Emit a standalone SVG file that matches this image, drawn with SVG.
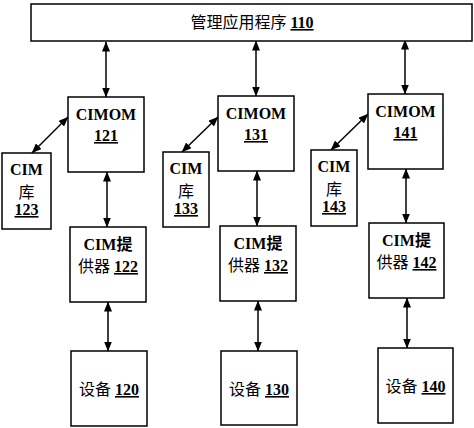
<svg xmlns="http://www.w3.org/2000/svg" width="474" height="428" viewBox="0 0 474 428">
<style>
.box{fill:#fff;stroke:#000;stroke-width:1.5}
.t{font-family:"Liberation Serif","Noto Sans CJK SC",serif;font-size:16px;fill:#000;text-anchor:middle}
.b{font-weight:bold}
.u{font-weight:bold;text-decoration:underline}
.c{stroke:#000;stroke-width:1.5;fill:none;marker-start:url(#ah);marker-end:url(#ah)}
</style>
<defs>
<marker id="ah" viewBox="0 0 10 8" refX="9.5" refY="4" markerWidth="10" markerHeight="8" markerUnits="userSpaceOnUse" orient="auto-start-reverse">
<path d="M0,0 L10,4 L0,8 Z" fill="#000"/>
</marker>
</defs>
<rect width="474" height="428" fill="#fff"/>
<g id="connectors">
<line class="c" x1="106" y1="42" x2="106" y2="97"/>
<line class="c" x1="256" y1="41" x2="256" y2="96"/>
<line class="c" x1="405" y1="40" x2="405" y2="94"/>
<line class="c" x1="32" y1="153" x2="68" y2="117"/>
<line class="c" x1="182" y1="152" x2="218" y2="117"/>
<line class="c" x1="331" y1="150" x2="368" y2="114"/>
<line class="c" x1="107" y1="172" x2="107" y2="227"/>
<line class="c" x1="257" y1="171" x2="257" y2="226"/>
<line class="c" x1="406" y1="169" x2="406" y2="223"/>
<line class="c" x1="108" y1="302" x2="108" y2="351"/>
<line class="c" x1="258" y1="301" x2="258" y2="351"/>
<line class="c" x1="407" y1="298" x2="407" y2="348"/>
</g>
<g id="app110">
<rect class="box" x="31" y="4" width="441" height="37"/>
<text class="t" x="252" y="28">管理应用程序 <tspan class="u">110</tspan></text>
</g>
<g id="cimom121">
<rect class="box" x="68" y="97" width="76" height="75"/>
<text class="t b" x="106" y="120">CIMOM</text>
<text class="t u" x="106" y="141">121</text>
</g>
<g id="repo123">
<rect class="box" x="2" y="153" width="49" height="76"/>
<text class="t b" x="26.5" y="175">CIM</text>
<text class="t" x="26.5" y="198">库</text>
<text class="t u" x="26.5" y="215">123</text>
</g>
<g id="prov122">
<rect class="box" x="70" y="227" width="76" height="75"/>
<text class="t b" x="108" y="250">CIM提</text>
<text class="t" x="108" y="272">供器 <tspan class="u">122</tspan></text>
</g>
<g id="dev120">
<rect class="box" x="71" y="351" width="76" height="75"/>
<text class="t" x="109" y="395">设备 <tspan class="u">120</tspan></text>
</g>
<g id="cimom131">
<rect class="box" x="218" y="96" width="76" height="75"/>
<text class="t b" x="256" y="119">CIMOM</text>
<text class="t u" x="256" y="140">131</text>
</g>
<g id="repo133">
<rect class="box" x="163" y="152" width="46" height="75"/>
<text class="t b" x="186" y="174">CIM</text>
<text class="t" x="186" y="197">库</text>
<text class="t u" x="186" y="214">133</text>
</g>
<g id="prov132">
<rect class="box" x="220" y="226" width="76" height="75"/>
<text class="t b" x="258" y="249">CIM提</text>
<text class="t" x="258" y="271">供器 <tspan class="u">132</tspan></text>
</g>
<g id="dev130">
<rect class="box" x="221" y="351" width="76" height="74"/>
<text class="t" x="259" y="395">设备 <tspan class="u">130</tspan></text>
</g>
<g id="cimom141">
<rect class="box" x="368" y="94" width="75" height="75"/>
<text class="t b" x="405.5" y="117">CIMOM</text>
<text class="t u" x="405.5" y="138">141</text>
</g>
<g id="repo143">
<rect class="box" x="311" y="150" width="46" height="76"/>
<text class="t b" x="334" y="172">CIM</text>
<text class="t" x="334" y="195">库</text>
<text class="t u" x="334" y="212">143</text>
</g>
<g id="prov142">
<rect class="box" x="369" y="223" width="75" height="75"/>
<text class="t b" x="406.5" y="246">CIM提</text>
<text class="t" x="406.5" y="268">供器 <tspan class="u">142</tspan></text>
</g>
<g id="dev140">
<rect class="box" x="378" y="348" width="75" height="75"/>
<text class="t" x="415.5" y="392">设备 <tspan class="u">140</tspan></text>
</g>
</svg>
